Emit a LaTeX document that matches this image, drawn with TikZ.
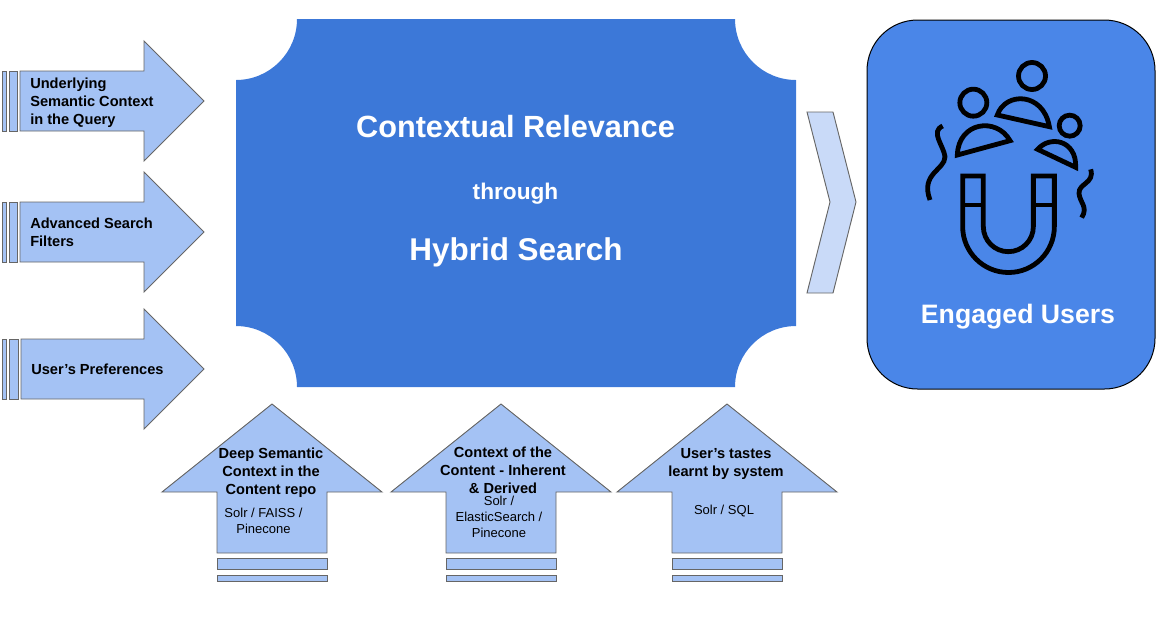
\documentclass[tikz,border=0pt]{standalone}
\usepackage{fontspec}
\setmainfont{Liberation Sans}
\definecolor{plaque}{HTML}{3C78D8}
\definecolor{engaged}{HTML}{4A86E8}
\definecolor{pale}{HTML}{A4C2F4}
\definecolor{paler}{HTML}{C9DAF8}
\definecolor{edge}{HTML}{666666}
\tikzset{
	arrowbox/.style={draw=edge,fill=pale,line width=.7pt,line join=miter},
	boldlabel/.style={inner sep=0pt,font=\fontsize{10.95}{13.4}\selectfont\bfseries},
	smalllabel/.style={inner sep=0pt,align=center,font=\fontsize{9.75}{12}\selectfont},
	whitelabel/.style={inner sep=0pt,text=white,font=\bfseries},
	icon/.style={line width=3.6pt,draw=black}
}
\begin{document}
\begin{tikzpicture}[x=.75pt,y=-.75pt]
	\useasboundingbox (0,0) rectangle (1173,619);
	% left arrows
	\foreach \x/\y in {20/101,20/232,21/369} {
		\draw[arrowbox] (\x,\y-30) -- (144,\y-30) -- (144,\y-60) -- (204,\y) -- (144,\y+60) -- (144,\y+30) -- (\x,\y+30) -- cycle;
		\draw[arrowbox] (2,\y-30) rectangle (6,\y+30);
		\draw[arrowbox] (9,\y-30) rectangle (\x-3,\y+30);
	}
	% bottom arrows
	\foreach \x in {272,501,727} {
		\draw[arrowbox] (\x-55,553) -- (\x-55,492) -- (\x-110,492) -- (\x,404) -- (\x+110,492) -- (\x+55,492) -- (\x+55,553) -- cycle;
		\draw[arrowbox] (\x-55,558) rectangle (\x+55,569);
		\draw[arrowbox] (\x-55,575) rectangle (\x+55,581);
	}
	% plaque
	\fill[plaque] (297,19) -- (735,19) arc[start angle=180,end angle=90,radius=61] -- (796,326) arc[start angle=270,end angle=180,radius=61] -- (297,387) arc[start angle=360,end angle=270,radius=61] -- (236,80) arc[start angle=90,end angle=0,radius=61] -- cycle;
	% chevron
	\draw[arrowbox,fill=paler] (807,112) -- (833,112) -- (856,202) -- (833,293) -- (807,293) -- (830,202) -- cycle;
	% users box
	\draw[fill=engaged,line width=.75pt,rounded corners=38pt] (867,20) rectangle (1155,389);
	% magnet and users
	\begin{scope}[shift={(900,50)},x=.25pt,y=-.25pt]
		\draw[icon] (220,158) circle[radius=13.5*.75pt];
		\draw[icon] (396,78) circle[radius=13.5*.75pt];
		\draw[icon] (509,227) circle[radius=10.5*.75pt];
		\draw[icon,line join=miter] (172,315) .. controls (175,215) and (290,200) .. (330,272) -- cycle;
		\draw[icon,line join=miter] (292,195) .. controls (315,125) and (430,125) .. (448,230) -- cycle;
		\draw[icon,line join=miter] (413,298) .. controls (450,255) and (530,270) .. (527,352) -- cycle;
		\draw[icon] (128,228) .. controls (90,245) and (130,285) .. (135,320) .. controls (135,360) and (60,370) .. (90,450);
		\draw[icon] (572,358) .. controls (585,400) and (535,400) .. (537,430) .. controls (540,460) and (565,470) .. (545,503);
		\draw[icon] (188,378) -- (188,530) arc[start angle=180,end angle=360,radius=137.5*.25pt] -- (463,378) -- (400,378) -- (400,530) arc[start angle=360,end angle=180,radius=75*.25pt] -- (250,378) -- cycle;
		\draw[icon] (188,465) -- (250,465);
		\draw[icon] (400,465) -- (463,465);
	\end{scope}
	% texts
	\node[whitelabel,font=\fontsize{23}{28}\selectfont\bfseries] (title) at (515.5,127) {Contextual Relevance};
	\node[whitelabel,font=\fontsize{17}{20}\selectfont\bfseries] (through) at (515.5,194) {through};
	\node[whitelabel,font=\fontsize{23.6}{28}\selectfont\bfseries] (hybrid) at (516,252) {Hybrid Search};
	\node[whitelabel,font=\fontsize{20}{24}\selectfont\bfseries] (users) at (1018,317) {Engaged Users};
	\node[boldlabel,align=left,anchor=west] (query) at (30,103) {Underlying\\Semantic Context\\in the Query};
	\node[boldlabel,align=left,anchor=west] (filters) at (30,232.5) {Advanced Search\\Filters};
	\node[boldlabel,align=left,anchor=west] (prefs) at (31,369) {User’s Preferences};
	\node[boldlabel,align=center] (deep) at (271,472.5) {Deep Semantic\\Context in the\\Content repo};
	\node[boldlabel,align=center] (inherent) at (503,470.5) {Context of the\\Content - Inherent\\\& Derived};
	\node[boldlabel,align=center] (tastes) at (726,464) {User’s tastes\\learnt by system};
	\node[smalllabel] (faiss) at (263.5,520.5) {Solr / FAISS /\\Pinecone};
	\node[smalllabel] (elastic) at (499,517) {Solr /\\ElasticSearch /\\Pinecone};
	\node[smalllabel] (sql) at (724,511) {Solr / SQL};
\end{tikzpicture}
\end{document}
